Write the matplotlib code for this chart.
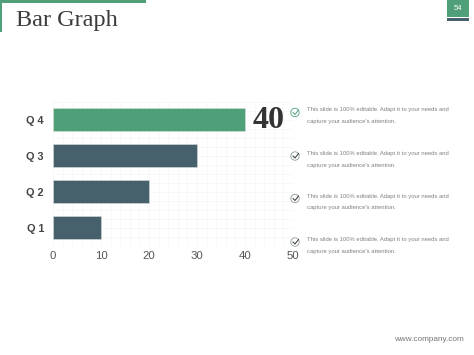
import matplotlib
matplotlib.use("Agg")
import matplotlib.pyplot as plt
from matplotlib.patches import Rectangle, Circle
from matplotlib.ticker import MultipleLocator

W, H = 474, 355
GREEN = "#4f9f78"
SLATE = "#46616c"

categories = ["Q 1", "Q 2", "Q 3", "Q 4"]
values = [10, 20, 30, 40]
bar_colors = [SLATE, SLATE, SLATE, GREEN]
x_ticks = [0, 10, 20, 30, 40, 50]
callout = "40"
note_line_1 = "This slide is 100% editable. Adapt it to your needs and"
note_line_2 = "capture your audience's attention."
note_text_rows = [110, 154, 196.5, 240]
note_icon_rows = [112.5, 156, 198.5, 242]
note_icon_colors = [GREEN, SLATE, SLATE, SLATE]

fig = plt.figure(figsize=(W / 100, H / 100), dpi=100, facecolor="white")
plt.rcParams["font.family"] = ["Liberation Sans", "DejaVu Sans"]

# overlay in pixel coordinates for slide decoration
bg = fig.add_axes([0, 0, 1, 1], zorder=0)
bg.set_xlim(0, W)
bg.set_ylim(H, 0)
bg.axis("off")
bg.add_patch(Rectangle((0, 0), 146, 2.5, color=GREEN, lw=0))
bg.add_patch(Rectangle((0, 0), 2.5, 32, color=GREEN, lw=0))
bg.add_patch(Rectangle((447, 0), 22, 17, color=GREEN, lw=0))
bg.add_patch(Rectangle((447, 18), 22, 3, color=SLATE, lw=0))
bg.text(458, 8.5, "54", color="white", fontsize=5.5, ha="center", va="center", family="Liberation Sans")
bg.text(16.5, 20.5, "Bar Graph", color="#3c3c3c", fontsize=17.5, ha="left", va="center", family="Liberation Serif")
bg.text(463.5, 339.5, "www.company.com", color="#777777", fontsize=5.9, ha="right", va="center", family="Liberation Sans")

# chart
x0, x1, top, bottom = 53, 293, 101.5, 245.5
ax = fig.add_axes([x0 / W, 1 - bottom / H, (x1 - x0) / W, (bottom - top) / H], zorder=1)
ax.set_facecolor("none")
positions = list(range(len(categories)))
ax.barh(positions, values, height=0.64, color=bar_colors, edgecolor="#d8dfdc", linewidth=0.4, zorder=3)
ax.set_xlim(0, 50)
ax.set_ylim(-0.5, 3.5)
ax.set_xticks(x_ticks)
ax.set_yticks(positions, categories)
ax.xaxis.set_minor_locator(MultipleLocator(2))
ax.yaxis.set_minor_locator(MultipleLocator(0.25))
ax.grid(which="both", color="#f5f6f6", linewidth=0.5, zorder=0)
ax.set_axisbelow(True)
for s in ax.spines.values():
    s.set_visible(False)
ax.tick_params(which="both", length=0)
ax.tick_params(axis="x", labelsize=8.2, labelcolor="#555555", pad=4)
ax.tick_params(axis="y", labelsize=7.8, labelcolor="#444444", pad=6.5)
for t in ax.get_yticklabels():
    t.set_fontweight("bold")
ax.text(values[-1] + 1.5, positions[-1] - 0.03, callout, fontsize=23, fontweight="bold",
        family="Liberation Serif", color="#333333", ha="left", va="center", zorder=4)

# notes
fg = fig.add_axes([0, 0, 1, 1], zorder=2)
fg.set_xlim(0, W)
fg.set_ylim(H, 0)
fg.axis("off")
for yt, y, c in zip(note_text_rows, note_icon_rows, note_icon_colors):
    fg.add_patch(Circle((295, y), 4.2, fill=False, ec="#8a9a96" if c == SLATE else c, lw=0.6))
    fg.plot([293, 295, 298.5], [y, y + 2, y - 2.5], color="#333333" if c == SLATE else c, lw=0.7)
    fg.text(307, yt, note_line_1, fontsize=4.25, color="#808080", ha="left", va="center")
    fg.text(307, yt + 11, note_line_2, fontsize=4.25, color="#808080", ha="left", va="center")

fig.savefig("out.png", dpi=100)
